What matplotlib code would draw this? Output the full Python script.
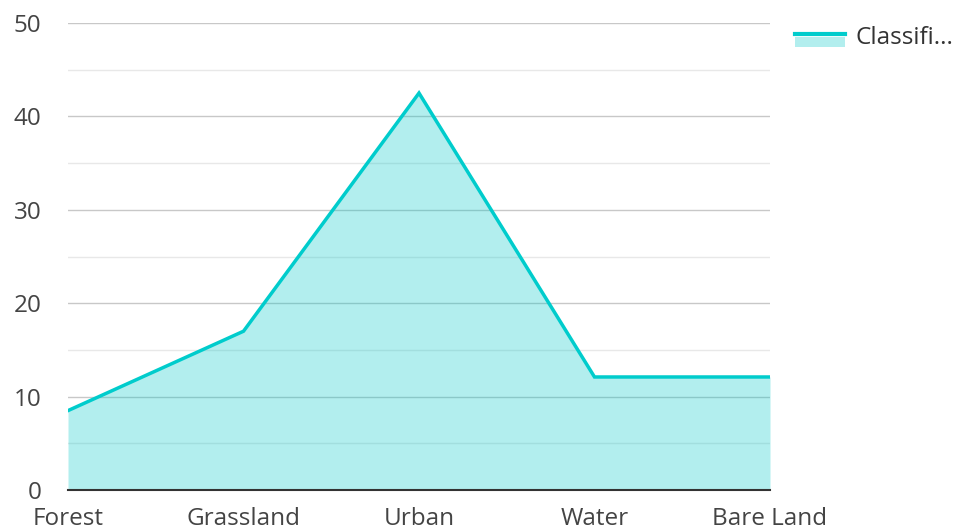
import matplotlib
matplotlib.use("Agg")
import matplotlib.pyplot as plt
from matplotlib.patches import Patch, Rectangle
from matplotlib.lines import Line2D
from matplotlib.legend_handler import HandlerBase

categories = ["Forest", "Grassland", "Urban", "Water", "Bare Land"]
values = [8.5, 17.0, 42.5, 12.1, 12.1]
yticks = [0, 10, 20, 30, 40, 50]
series_name = "Classifi..."

plt.rcParams['font.family'] = ['Open Sans', 'DejaVu Sans']

fig = plt.figure(figsize=(9.57, 5.31), dpi=100)
ax = fig.add_axes([68/957, 41/531, (770-68)/957, (490-23)/531])

x = list(range(len(categories)))
ax.fill_between(x, values, 0, color="#00c8c8", alpha=0.3, linewidth=0, zorder=2)
ax.plot(x, values, color="#00cccc", linewidth=2.5, zorder=3, solid_joinstyle="miter")

ax.set_xlim(0, len(categories) - 1)
ax.set_ylim(0, 50)
ax.set_yticks(yticks)
ax.set_yticks([5, 15, 25, 35, 45], minor=True)
ax.set_xticks(x)
ax.set_xticklabels(categories)
ax.grid(axis="y", which="major", color="#c8c8c8", linewidth=1, zorder=1)
ax.grid(axis="y", which="minor", color="#e8e8e8", linewidth=1, zorder=1)
ax.set_axisbelow(True)
for s in ["left", "right", "top"]:
    ax.spines[s].set_visible(False)
ax.spines["bottom"].set_color("#333333")
ax.spines["bottom"].set_linewidth(1.5)
ax.tick_params(axis="both", which="both", length=0, labelsize=17.5, colors="#444444")
ax.tick_params(axis="y", pad=19)
ax.tick_params(axis="x", pad=12)


class AreaHandler(HandlerBase):
    def create_artists(self, legend, orig, xd, yd, width, height, fontsize, trans):
        p = Rectangle((xd, yd - 0.2 * height), width, height * 0.64, facecolor="#00c8c8",
                      alpha=0.3, linewidth=0, transform=trans)
        l = Line2D([xd, xd + width], [yd + height * 0.56, yd + height * 0.56],
                   color="#00cccc", linewidth=3, transform=trans)
        return [p, l]


h = Patch(label=series_name)
leg = fig.legend([h], [series_name], handler_map={Patch: AreaHandler()},
                 loc="upper left", bbox_to_anchor=(795/957, 1 - 26/531), frameon=False,
                 fontsize=17.5, handlelength=2.06, handletextpad=0.41, borderaxespad=0,
                 borderpad=0)
for t in leg.get_texts():
    t.set_color("#333333")

fig.savefig("out.png", dpi=100)
